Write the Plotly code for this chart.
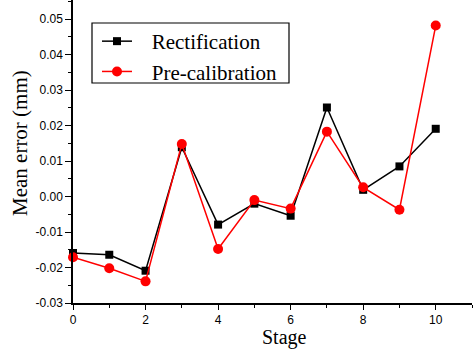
import plotly.graph_objects as go

stages = [0, 1, 2, 3, 4, 5, 6, 7, 8, 9, 10]
rectification = [-0.0159, -0.0164, -0.0209, 0.0139, -0.0079, -0.0020,
                 -0.0054, 0.0251, 0.0019, 0.0085, 0.0191]
pre_calibration = [-0.0171, -0.0202, -0.0239, 0.0148, -0.0148, -0.0010,
                   -0.0034, 0.0183, 0.0026, -0.0037, 0.0482]

x_ticks = [0, 2, 4, 6, 8, 10]
y_ticks = [-0.03, -0.02, -0.01, 0.00, 0.01, 0.02, 0.03, 0.04, 0.05]
y_tick_text = ["-0.03", "-0.02", "-0.01", "0.00", "0.01", "0.02", "0.03", "0.04", "0.05"]

serif = "Liberation Serif, Times New Roman, serif"
sans = "Liberation Sans, Arial, sans-serif"

# plot area in pixels: left 73, right 472, top 0, bottom 303
PL, PR, PT, PB = 73, 472, 0, 303
def px_x(p):
    return (p - PL) / (PR - PL)
def px_y(p):
    return 1 - (p - PT) / (PB - PT)

# a little non-collapsing space between legend symbol and label
GAP = "\u2002\u2009"

fig = go.Figure()
fig.add_trace(go.Scatter(
    x=stages, y=rectification, name=GAP + "Rectification",
    mode="lines+markers",
    line=dict(color="black", width=1.5),
    marker=dict(symbol="square", size=8, color="black"),
    cliponaxis=False,
))
fig.add_trace(go.Scatter(
    x=stages, y=pre_calibration, name=GAP + "Pre-calibration",
    mode="lines+markers",
    line=dict(color="#ff0000", width=1.5),
    marker=dict(symbol="circle", size=10, color="#ff0000"),
    cliponaxis=False,
))

fig.update_layout(
    width=474, height=349,
    margin=dict(l=PL, r=474 - PR, t=PT, b=349 - PB),
    paper_bgcolor="white", plot_bgcolor="white",
    showlegend=True,
    legend=dict(
        x=px_x(97), y=px_y(21), xanchor="left", yanchor="top",
        borderwidth=0, bgcolor="rgba(0,0,0,0)",
        font=dict(family=serif, size=21, color="black"),
        tracegroupgap=0,
    ),
    shapes=[
        dict(type="rect", xref="paper", yref="paper",
             x0=px_x(92), x1=px_x(289), y0=px_y(83), y1=px_y(23),
             line=dict(color="black", width=1.2), fillcolor="white", layer="below"),
    ],
    xaxis=dict(
        range=[0, 11], tickvals=x_ticks, ticktext=[str(v) for v in x_ticks],
        showgrid=False, zeroline=False,
        showline=True, linecolor="black", linewidth=1.5,
        ticks="outside", ticklen=5, tickwidth=1.2, tickcolor="black",
        minor=dict(dtick=1, ticks="outside", ticklen=3, tickcolor="black", tickwidth=1.2, tick0=0),
        tickfont=dict(family=sans, size=12, color="black"),
    ),
    yaxis=dict(
        range=[-0.03, 0.0554], tickvals=y_ticks, ticktext=y_tick_text,
        showgrid=False, zeroline=False,
        showline=True, linecolor="black", linewidth=1.5,
        ticks="outside", ticklen=6, tickwidth=1.2, tickcolor="black",
        minor=dict(dtick=0.005, tick0=0, ticks="outside", ticklen=3, tickcolor="black", tickwidth=1.2),
        tickfont=dict(family=sans, size=12, color="black"),
    ),
    annotations=[
        dict(text="Stage", xref="paper", yref="paper",
             x=px_x(284), y=px_y(337.5), xanchor="center", yanchor="middle",
             showarrow=False, font=dict(family=serif, size=20, color="black")),
        dict(text="Mean error (mm)", xref="paper", yref="paper",
             x=px_x(20), y=px_y(143), xanchor="center", yanchor="middle",
             textangle=-90, showarrow=False,
             font=dict(family=serif, size=21, color="black")),
    ],
)

fig.write_html("out.html")
